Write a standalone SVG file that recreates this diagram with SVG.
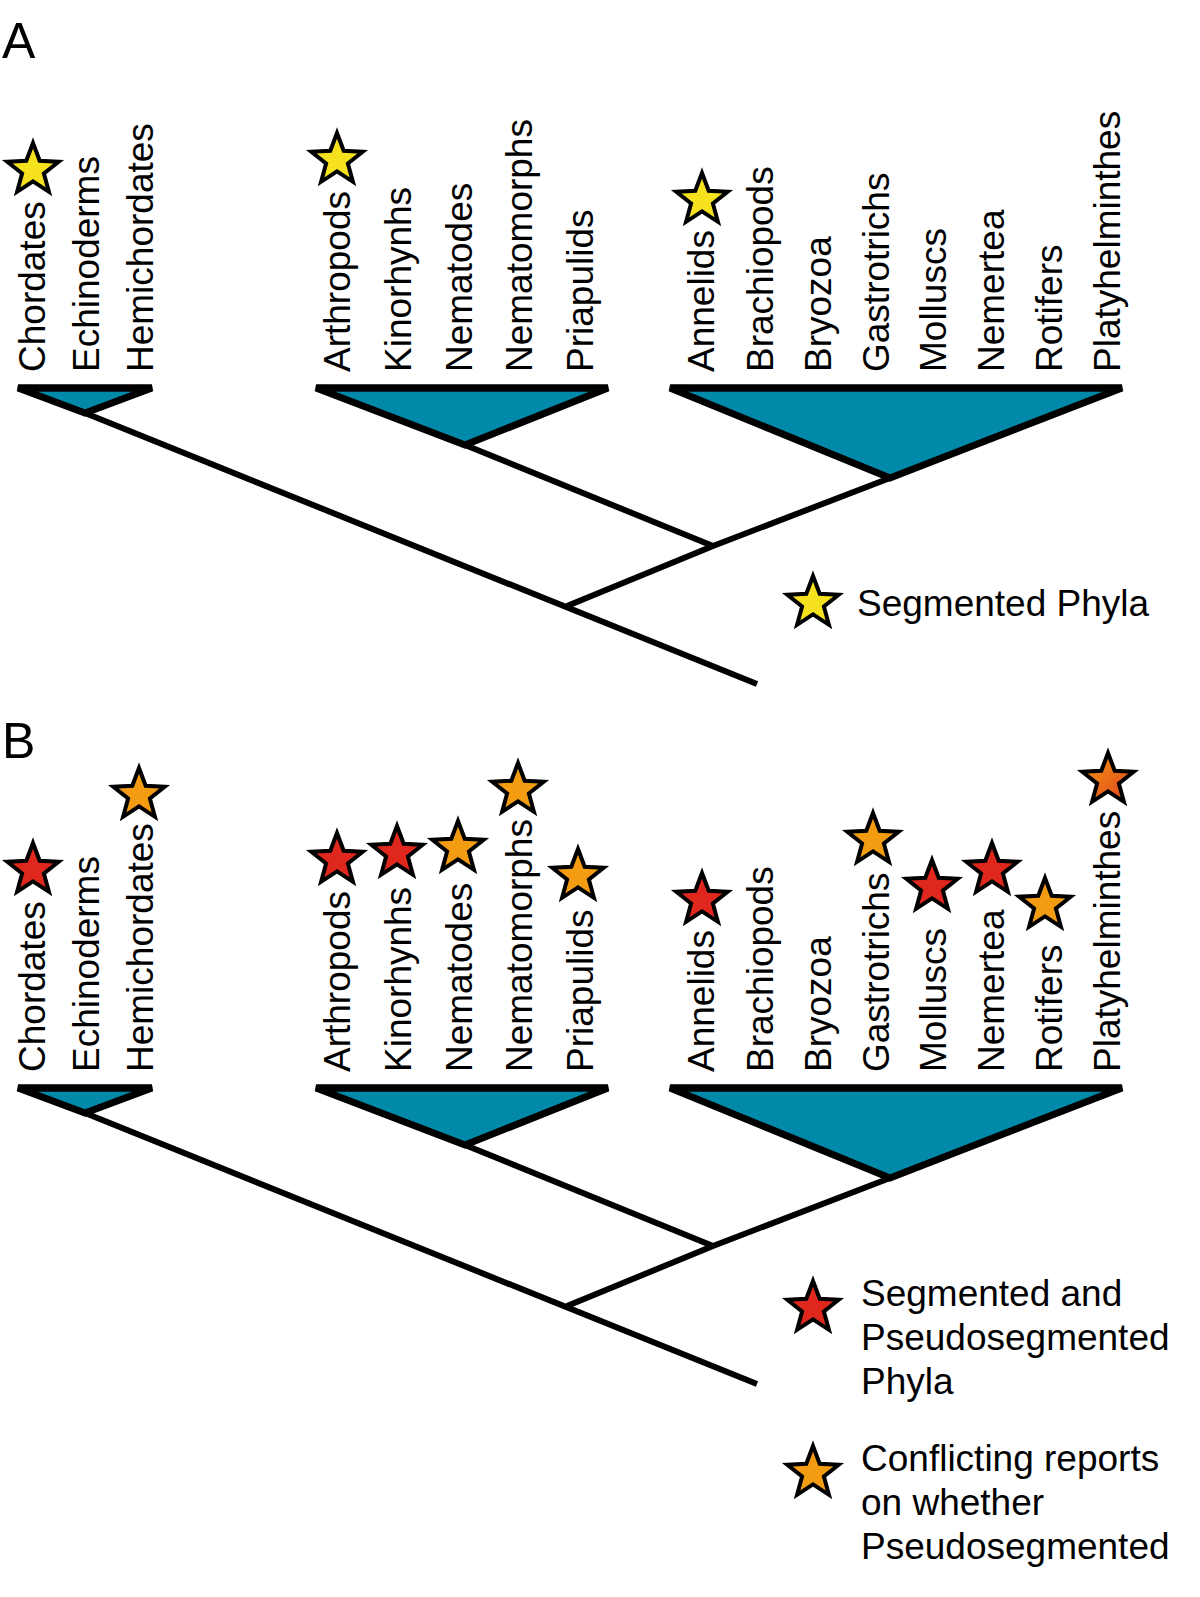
<svg xmlns="http://www.w3.org/2000/svg" xmlns:xlink="http://www.w3.org/1999/xlink" width="1200" height="1597" viewBox="0 0 1200 1597">
<style>
text{font-family:"Liberation Sans",Arial,sans-serif;fill:#000}
.lb{font-size:37px}
.lg{font-size:37px}
.big{font-size:50px}
.tri{fill:#0089a8;stroke:#000;stroke-width:7;stroke-linejoin:miter}
.br{stroke:#000;stroke-width:6;fill:none}
.bar{stroke:#000;stroke-width:7}
.st{stroke:#000;stroke-width:4;stroke-linejoin:miter}
.y{fill:#f6e11f}.r{fill:#e0271d}.o{fill:#f39c12}.g{fill:url(#gr)}
</style>
<defs>
<path id="star" d="M0,-27 L6.7,-9.2 L25.7,-8.3 L10.9,3.5 L15.9,21.8 L0,11.4 L-15.9,21.8 L-10.9,3.5 L-25.7,-8.3 L-6.7,-9.2Z"/>
<linearGradient id="gr" x1="0" y1="0" x2="1" y2="1"><stop offset="0" stop-color="#f39c12"/><stop offset="1" stop-color="#e0401d"/></linearGradient>
</defs>
<text class="big" x="2" y="58">A</text>
<text class="big" x="2" y="758">B</text>
<g id="panelA">
<g id="connectorsA">
<polyline class="br" points="85,413 757,684"/>
<polyline class="br" points="465,445 713,546"/>
<polyline class="br" points="890,478 713,546 567,606"/>
</g>
<g id="cladeA1"><polygon class="tri" points="18,388 152,388 85,413"/><line class="bar" x1="18" y1="388" x2="152" y2="388"/></g>
<g id="cladeA2"><polygon class="tri" points="316,388 608,388 465,445"/><line class="bar" x1="316" y1="388" x2="608" y2="388"/></g>
<g id="cladeA3"><polygon class="tri" points="670,388 1122,388 890,478"/><line class="bar" x1="670" y1="388" x2="1122" y2="388"/></g>
<g id="labelsA" class="lb">
<text transform="translate(45,372) rotate(-90)">Chordates</text>
<text transform="translate(99,372) rotate(-90)">Echinoderms</text>
<text transform="translate(153,372) rotate(-90)">Hemichordates</text>
<text transform="translate(350,372) rotate(-90)">Arthropods</text>
<text transform="translate(411,372) rotate(-90)">Kinorhynhs</text>
<text transform="translate(472,372) rotate(-90)">Nematodes</text>
<text transform="translate(532,372) rotate(-90)">Nematomorphs</text>
<text transform="translate(593,372) rotate(-90)">Priapulids</text>
<text transform="translate(714,372) rotate(-90)">Annelids</text>
<text transform="translate(773,372) rotate(-90)">Brachiopods</text>
<text transform="translate(831,372) rotate(-90)">Bryozoa</text>
<text transform="translate(889,372) rotate(-90)">Gastrotrichs</text>
<text transform="translate(946,372) rotate(-90)">Molluscs</text>
<text transform="translate(1004,372) rotate(-90)">Nemertea</text>
<text transform="translate(1062,372) rotate(-90)">Rotifers</text>
<text transform="translate(1120,372) rotate(-90)">Platyhelminthes</text>
</g>
<g id="starsA">
<use href="#star" class="st y" x="33" y="170"/>
<use href="#star" class="st y" x="337" y="160"/>
<use href="#star" class="st y" x="702" y="200"/>
</g>
<g id="legendA"><use href="#star" class="st y" x="813" y="603"/><text class="lg" x="857" y="616">Segmented Phyla</text></g>
</g>
<g id="panelB">
<g id="connectorsB">
<polyline class="br" points="85,1113 757,1384"/>
<polyline class="br" points="465,1145 713,1246"/>
<polyline class="br" points="890,1178 713,1246 567,1306"/>
</g>
<g id="cladeB1"><polygon class="tri" points="18,1088 152,1088 85,1113"/><line class="bar" x1="18" y1="1088" x2="152" y2="1088"/></g>
<g id="cladeB2"><polygon class="tri" points="316,1088 608,1088 465,1145"/><line class="bar" x1="316" y1="1088" x2="608" y2="1088"/></g>
<g id="cladeB3"><polygon class="tri" points="670,1088 1122,1088 890,1178"/><line class="bar" x1="670" y1="1088" x2="1122" y2="1088"/></g>
<g id="labelsB" class="lb">
<text transform="translate(45,1072) rotate(-90)">Chordates</text>
<text transform="translate(99,1072) rotate(-90)">Echinoderms</text>
<text transform="translate(153,1072) rotate(-90)">Hemichordates</text>
<text transform="translate(350,1072) rotate(-90)">Arthropods</text>
<text transform="translate(411,1072) rotate(-90)">Kinorhynhs</text>
<text transform="translate(472,1072) rotate(-90)">Nematodes</text>
<text transform="translate(532,1072) rotate(-90)">Nematomorphs</text>
<text transform="translate(593,1072) rotate(-90)">Priapulids</text>
<text transform="translate(714,1072) rotate(-90)">Annelids</text>
<text transform="translate(773,1072) rotate(-90)">Brachiopods</text>
<text transform="translate(831,1072) rotate(-90)">Bryozoa</text>
<text transform="translate(889,1072) rotate(-90)">Gastrotrichs</text>
<text transform="translate(946,1072) rotate(-90)">Molluscs</text>
<text transform="translate(1004,1072) rotate(-90)">Nemertea</text>
<text transform="translate(1062,1072) rotate(-90)">Rotifers</text>
<text transform="translate(1120,1072) rotate(-90)">Platyhelminthes</text>
</g>
<g id="starsB">
<use href="#star" class="st r" x="33" y="870"/>
<use href="#star" class="st o" x="139" y="795"/>
<use href="#star" class="st r" x="337" y="860"/>
<use href="#star" class="st r" x="397" y="853"/>
<use href="#star" class="st o" x="458" y="848"/>
<use href="#star" class="st o" x="518" y="790"/>
<use href="#star" class="st o" x="578" y="876"/>
<use href="#star" class="st r" x="702" y="900"/>
<use href="#star" class="st o" x="873" y="840"/>
<use href="#star" class="st r" x="932" y="887"/>
<use href="#star" class="st r" x="992" y="870"/>
<use href="#star" class="st o" x="1045" y="905"/>
<use href="#star" class="st g" x="1108" y="780"/>
</g>
<g id="legendB">
<use href="#star" class="st r" x="813" y="1308"/>
<text class="lg" x="861" y="1306">Segmented and</text>
<text class="lg" x="861" y="1350">Pseudosegmented</text>
<text class="lg" x="861" y="1394">Phyla</text>
<use href="#star" class="st o" x="813" y="1473"/>
<text class="lg" x="861" y="1471">Conflicting reports</text>
<text class="lg" x="861" y="1515">on whether</text>
<text class="lg" x="861" y="1559">Pseudosegmented</text>
</g>
</g>
</svg>
